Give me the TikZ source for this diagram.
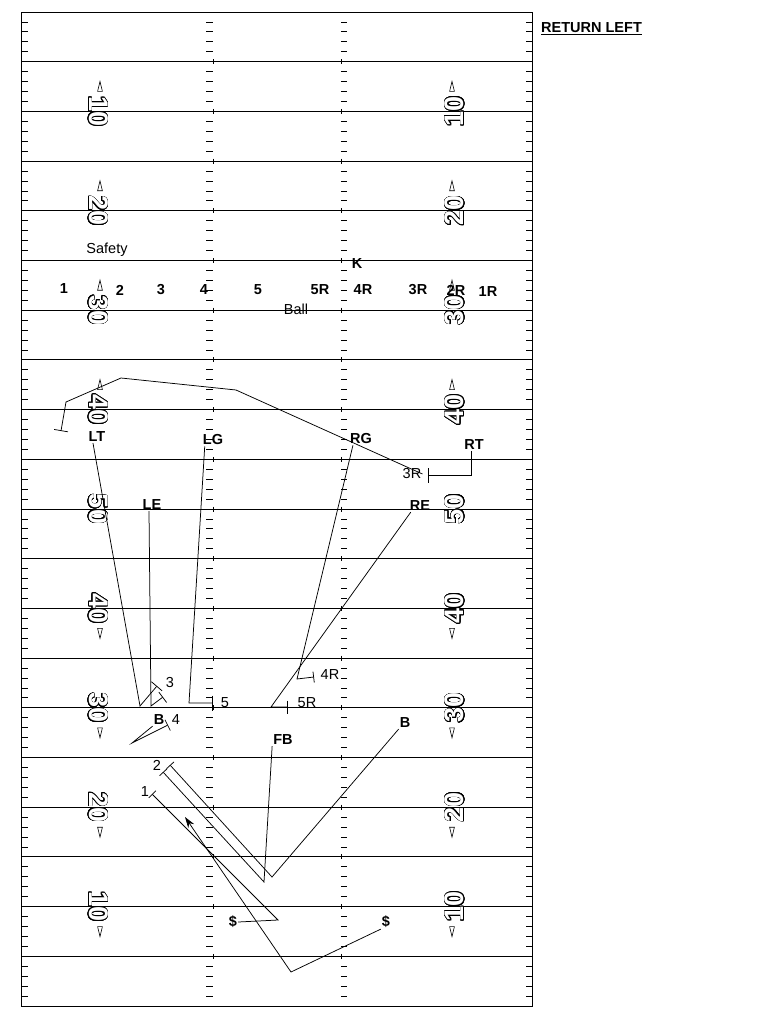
\documentclass[tikz,border=0pt]{standalone}
\usepackage{fontspec}
\setmainfont{Liberation Sans}
\usepackage{contour}
\contourlength{0.7pt}
\contournumber{24}
\usetikzlibrary{arrows.meta}
\begin{document}
\begin{tikzpicture}[x=1pt,y=-1pt,
  lab/.style={font=\fontsize{14.5}{16}\selectfont, inner sep=1pt},
  blab/.style={font=\fontsize{14.5}{16}\selectfont\bfseries, inner sep=1pt},
  ynum/.style={font=\fontsize{27}{27}\selectfont\bfseries, inner sep=0pt, text=white},
  route/.style={line width=0.75pt},
  tbar/.style={-{Bar[width=#1]}},
  tbar/.default=13pt,
  yline/.style={line width=0.9pt},
  tick/.style={line width=0.8pt},
  tri/.style={line width=0.6pt}]
\useasboundingbox (0,0) rectangle (768,1024);

% ---------- field ----------
\draw[line width=0.9pt] (21,12) rectangle (532,1006);
\foreach \k in {1,...,19}{
  \pgfmathsetmacro\yy{12+49.7*\k}
  \draw[yline] (21,\yy) -- (532,\yy);
  \draw[tick] (213,\yy-2.5) -- (213,\yy+2.5);
  \draw[tick] (341,\yy-2.5) -- (341,\yy+2.5);
}
\foreach \k in {0,...,19}{
  \foreach \j in {1,...,4}{
    \pgfmathsetmacro\yy{12+49.7*(\k+\j/5)}
    \draw[tick] (21,\yy) -- (28,\yy);
    \draw[tick] (206,\yy) -- (213,\yy);
    \draw[tick] (341,\yy) -- (347,\yy);
    \draw[tick] (526,\yy) -- (532,\yy);
  }
}
% yard numbers
\foreach \k/\d in {2/1,4/2,6/3,8/4,10/5,12/4,14/3,16/2,18/1}{
  \pgfmathsetmacro\yl{12+49.7*\k}
  \node[ynum, rotate=-90] (YL\k) at (98,\yl) {\contour{black}{\d0}};
  \node[ynum, rotate=90] (YR\k) at (455,\yl) {\contour{black}{\d0}};
}
\foreach \k in {2,4,6,8}{
  \pgfmathsetmacro\yl{12+49.7*\k}
  \draw[tri] (100,\yl-30) -- (97.6,\yl-20) -- (102.4,\yl-20) -- cycle;
  \draw[tri] (452,\yl-30) -- (449.6,\yl-20) -- (454.4,\yl-20) -- cycle;
}
\foreach \k in {12,14,16,18}{
  \pgfmathsetmacro\yl{12+49.7*\k}
  \draw[tri] (100,\yl+30) -- (97.6,\yl+20) -- (102.4,\yl+20) -- cycle;
  \draw[tri] (452,\yl+30) -- (449.6,\yl+20) -- (454.4,\yl+20) -- cycle;
}

% ---------- title ----------
\node[blab, anchor=west] (title) at (540,29) {\underline{RETURN LEFT}};

% ---------- kickoff row ----------
\node[lab] (safety) at (107,250) {Safety};
\node[blab] (K) at (357,264) {K};
\node[blab] (p1) at (64,289) {1};
\node[blab] (p2) at (120,290) {2};
\node[blab] (p3) at (161,290) {3};
\node[blab] (p4) at (204,290) {4};
\node[blab] (p5) at (258,290) {5};
\node[blab] (p5R) at (320,290) {5R};
\node[blab] (p4R) at (363,290) {4R};
\node[blab] (p3R) at (418,290) {3R};
\node[blab] (p2R) at (456,290) {2R};
\node[blab] (p1R) at (488,292) {1R};
\node[lab] (ball) at (296,309) {Ball};

% ---------- players ----------
\node[blab] (LT) at (97,437) {LT};
\node[blab] (LG) at (213,440) {LG};
\node[blab] (RG) at (361,439) {RG};
\node[blab] (RT) at (474,445) {RT};
\node[blab] (LE) at (152,505) {LE};
\node[blab] (RE) at (420,506) {RE};
\node[blab] (Bl) at (159,720) {B};
\node[blab] (FB) at (283,740) {FB};
\node[blab] (Br) at (405,723) {B};
\node[blab] (dl) at (233,922) {\$};
\node[blab] (dr) at (386,922) {\$};

% ---------- small labels ----------
\node[lab] (t3R) at (412,474) {3R};
\node[lab] (n3) at (170,683) {3};
\node[lab] (n4) at (176,720) {4};
\node[lab] (n5) at (225,703) {5};
\node[lab] (n5R) at (307,703) {5R};
\node[lab] (n4R) at (330,675) {4R};
\node[lab] (n2) at (157,765) {2};
\node[lab] (n1) at (145,792) {1};

% ---------- route points ----------
\coordinate (a1) at (236,390);
\coordinate (a2) at (121,378);
\coordinate (a3) at (66,402);
\coordinate (a4) at (61,431);
\coordinate (b1) at (471,475);
\coordinate (b2) at (428,475);
\coordinate (c1) at (140,706);
\coordinate (c2) at (157,686);
\coordinate (d1) at (151,706);
\coordinate (d2) at (163,697);
\coordinate (e1) at (189,703);
\coordinate (e2) at (213,703);
\coordinate (f1) at (297,679);
\coordinate (f2) at (314,677);
\coordinate (g1) at (271,707);
\coordinate (g2) at (288,707);
\coordinate (h1) at (132,743);
\coordinate (h2) at (168,725);
\coordinate (i1) at (264,882);
\coordinate (i2) at (163,772);
\coordinate (j1) at (272,877);
\coordinate (j2) at (170,765);
\coordinate (k1) at (278,920);
\coordinate (k2) at (152,794);
\coordinate (m1) at (291,972);
\coordinate (m2) at (185,817);

% ---------- routes ----------
\draw[route, tbar=14pt] (t3R.east) -- (a1) -- (a2) -- (a3) -- (a4);
\draw[route, tbar=15pt] ([xshift=-3pt]RT.south) -- (b1) -- (b2);
\draw[route, tbar=14pt] ([xshift=-4pt]LT.south) -- (c1) -- (c2);
\draw[route, tbar=13pt] ([xshift=-3pt]LE.south) -- (d1) -- (d2);
\draw[route, tbar=15pt] ([xshift=3pt]LG.south west) -- (e1) -- (e2);
\draw[route, tbar=11pt] ([xshift=4pt]RG.south west) -- (f1) -- (f2);
\draw[route, tbar=13pt] ([xshift=2pt]RE.south west) -- (g1) -- (g2);
\draw[route, tbar=12pt] (Bl.south west) -- (h1) -- (h2);
\draw[route, tbar=10pt] (FB.south west) -- (i1) -- (i2);
\draw[route, tbar=10pt] (Br.south west) -- (j1) -- (j2);
\draw[route, tbar=10pt] (dl.east) -- (k1) -- (k2);
\draw[route, -{Stealth[length=11pt,width=7pt]}] (dr.south west) -- (m1) -- (m2);
\end{tikzpicture}
\end{document}
